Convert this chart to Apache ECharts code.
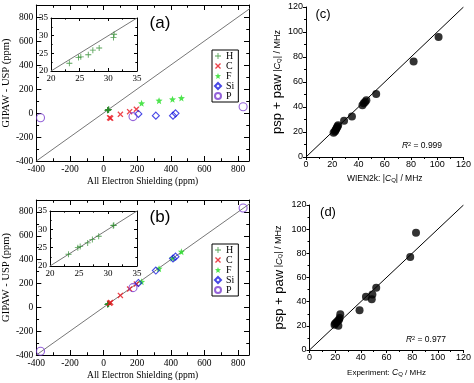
<!DOCTYPE html>
<html><head><meta charset="utf-8">
<script src="https://cdn.jsdelivr.net/npm/echarts@6/dist/echarts.min.js"></script>
<style>html,body{margin:0;padding:0;background:#fff}#c{width:474px;height:383px}</style>
</head><body><div id="c"></div>
<script>
// ---------- data: panels (a) and (b) ----------
const hAE    = [23.2, 24.8, 25.2, 26.5, 27.3, 28.4, 30.9, 31.0];
const hUspA  = [22.2, 23.8, 24.0, 24.6, 25.9, 26.5, 29.5, 30.4];
const hUspB  = [23.2, 25.0, 25.3, 26.3, 27.2, 28.1, 31.0, 31.1];
const cAE    = [36, 42, 100, 155, 195];
const cUspA  = [-40, -44, -11, 11, 31];
const cUspB  = [35, 40, 100, 153, 195];
const fAE    = [226, 330, 410, 463];
const fUspA  = [81, 103, 114, 125];
const fUspB  = [214, 324, 412, 466];
const siAE   = [207, 311, 413, 428];
const siUspA = [-8, -22, -22, -3];
const siUspB = [204, 308, 410, 425];
const pAE    = [-375, 175, 830];
const pUspA  = [-39, -30, 52];
const pUspB  = [-368, 165, 833];
const diagMain  = [-400, 900];
const diagInset = [20, 35];
// ---------- data: panels (c) and (d) ----------
const qWien = [21, 22, 22.5, 23, 23.5, 24, 24.5, 29, 35, 43, 44, 45, 46, 53.5, 82, 101];
const qPawC = [19.5, 20.5, 21.5, 22.5, 23.5, 24.5, 25.5, 29, 32.5, 41.5, 43, 44, 45.5, 50.5, 76.5, 96];
const qExp  = [19.5, 20, 21, 22.5, 22, 23, 23.5, 24, 39, 44, 48.5, 49, 52, 78.5, 83];
const qPawD = [21, 22, 23, 20, 24, 25, 26.5, 29.5, 33, 44, 42, 46, 51.5, 77, 97];
const diagQ = [0, 120];
const r2c = '0.999', r2d = '0.977';

const SERIF = '"Liberation Serif", "Times New Roman", serif';
const SANS = '"Liberation Sans", Arial, sans-serif';
const zip = (a, b) => a.map((v, i) => [v, b[i]]);

const PLUS = 'path://M3 0h1v3h3v1h-3v3h-1v-3h-3v-1h3z';
const CROSS = 'path://M0 1.1L1.1 0 3.5 2.4 5.9 0 7 1.1 4.6 3.5 7 5.9 5.9 7 3.5 4.6 1.1 7 0 5.9 2.4 3.5Z';
const STAR = 'path://M5 0L6.3 3.3 10 3.6 7.1 6 8.1 9.6 5 7.6 1.9 9.6 2.9 6 0 3.6 3.7 3.3Z';
const colH = '#2a8a2a', colC = '#e8141e', colF = '#22dd22', colSi = '#1a1ae0', colP = '#7a3cd0';

const xAxes = [], yAxes = [];
function boxAxes(gi, range, interval, fontSize, xName, yName, nameOpts) {
  const base = (pos, labels, isX) => ({
    gridIndex: gi, type: 'value', position: pos, min: range[0], max: range[1], interval: interval,
    axisLine: {show: true, onZero: false, lineStyle: {color: '#000', width: 1}},
    axisTick: {show: true, inside: true, length: nameOpts.tick, lineStyle: {color: '#000', width: 1}},
    minorTick: {show: true, splitNumber: 2, length: nameOpts.tick * 0.55, lineStyle: {color: '#000', width: 1}},
    splitLine: {show: false},
    axisLabel: {show: labels, showMaxLabel: nameOpts.showMax, color: '#000', fontFamily: SERIF, fontSize: fontSize, margin: 3},
    name: labels ? (isX ? xName : yName) : '',
    nameLocation: 'middle',
    nameGap: isX ? nameOpts.xGap : nameOpts.yGap,
    nameTextStyle: {color: '#000', fontFamily: SERIF, fontSize: isX ? nameOpts.xSize : nameOpts.ySize}
  });
  xAxes.push(base('bottom', true, true), base('top', false, true));
  yAxes.push(base('left', true, false), base('right', false, false));
}
const mainRange = [-400, 865];
const yMainRange = [-400, 900];
// (a) main: axes 0,1 ; inset a: 2,3 ; (b) main: 4,5 ; inset b: 6,7
function addMain(gi) {
  boxAxes(gi, mainRange, 200, 9.5, 'All Electron Shielding (ppm)', 'GIPAW - USP (ppm)',
    {tick: 5, showMax: false, xGap: 15, yGap: 20, xSize: 9.5, ySize: 10.5});
  yAxes[yAxes.length - 2].max = yMainRange[1];
  yAxes[yAxes.length - 1].max = yMainRange[1];
}
function addInset(gi) {
  boxAxes(gi, diagInset, 5, 9, '', '', {tick: 3, showMax: true, xGap: 10, yGap: 10, xSize: 9, ySize: 9});
}
addMain(0); addInset(1); addMain(2); addInset(3);

function qAxis(gi, isX, name, gap) {
  return {
    gridIndex: gi, type: 'value', min: diagQ[0], max: diagQ[1], interval: 20,
    position: isX ? 'bottom' : 'left',
    axisLine: {show: true, onZero: false, lineStyle: {color: '#000', width: 1}},
    axisTick: {show: true, inside: false, length: 3, lineStyle: {color: '#000'}},
    minorTick: {show: true, splitNumber: 2, length: 2, lineStyle: {color: '#000'}},
    splitLine: {show: false},
    axisLabel: {color: '#000', fontFamily: SANS, fontSize: 9, margin: 3},
    name: name, nameLocation: 'middle', nameGap: gap,
    nameTextStyle: {color: '#000', fontFamily: SANS, fontSize: isX ? 8.5 : 9,
      rich: {
        a: {fontFamily: SANS, fontSize: 13, color: '#000'},
        i: {fontFamily: SANS, fontSize: isX ? 8.5 : 9, fontStyle: 'italic', color: '#000'},
        s: {fontFamily: SANS, fontSize: 6, color: '#000', padding: [3, 0, 0, 0]}
      }}
  };
}
xAxes.push(qAxis(4, true, 'WIEN2k: |{i|C}{s|Q}| / MHz', 17));
yAxes.push(qAxis(4, false, '{a|psp + paw} |{i|C}{s|Q}| / MHz', 21));
xAxes.push(qAxis(5, true, 'Experiment: {i|C}{s|Q} / MHz', 18));
yAxes.push(qAxis(5, false, '{a|psp + paw} |{i|C}{s|Q}| / MHz', 24));
xAxes[xAxes.length - 1].nameTextStyle.fontSize = 8;

function sc(name, xi, data, sym, size, color, open) {
  return {
    type: 'scatter', name: name, xAxisIndex: xi, yAxisIndex: xi, data: data,
    symbol: sym, symbolSize: size, z: 3,
    itemStyle: open ? {color: 'rgba(255,255,255,0)', borderColor: color, borderWidth: 1.1} : {color: color},
    emphasis: {disabled: true}
  };
}
function diag(xi, ends, color) {
  return {
    type: 'line', xAxisIndex: xi, yAxisIndex: xi, data: ends.map(v => [v, v]),
    showSymbol: false, symbol: 'none', silent: true, z: 1, clip: true,
    lineStyle: {color: color, width: 1}
  };
}
function mainSeries(xi, hY, cY, fY, siY, pY) {
  return [
    diag(xi, diagMain, '#777'),
    sc('H', xi, zip(hAE, hY), PLUS, 6, colH),
    sc('C', xi, zip(cAE, cY), CROSS, 6, colC),
    sc('F', xi, zip(fAE, fY), STAR, 7, colF),
    sc('Si', xi, zip(siAE, siY), 'diamond', 7, colSi, true),
    sc('P', xi, zip(pAE, pY), 'circle', 8, colP, true)
  ];
}
function insetSeries(xi, hY) {
  return [
    diag(xi, diagInset, '#777'),
    {type: 'scatter', xAxisIndex: xi, yAxisIndex: xi, data: zip(hAE, hY), symbol: PLUS, symbolSize: 6,
     itemStyle: {color: colH}, z: 3}
  ];
}
const series = [].concat(
  mainSeries(0, hUspA, cUspA, fUspA, siUspA, pUspA),
  insetSeries(2, hUspA),
  mainSeries(4, hUspB, cUspB, fUspB, siUspB, pUspB),
  insetSeries(6, hUspB),
  [diag(8, diagQ, '#000'),
   {type: 'scatter', xAxisIndex: 8, yAxisIndex: 8, data: zip(qWien, qPawC), symbol: 'circle', symbolSize: 8, itemStyle: {color: '#000'}, z: 3},
   diag(9, diagQ, '#000'),
   {type: 'scatter', xAxisIndex: 9, yAxisIndex: 9, data: zip(qExp, qPawD), symbol: 'circle', symbolSize: 8, itemStyle: {color: '#000'}, z: 3}]
);

function legendAt(top) {
  return {
    data: ['H', 'C', 'F', 'Si', 'P'], orient: 'vertical', left: 212, top: top,
    itemWidth: 6, itemHeight: 6, itemGap: 0, padding: [1, 4, 1, 2],
    borderColor: '#000', borderWidth: 1, backgroundColor: '#fff',
    textStyle: {fontFamily: SERIF, fontSize: 10, color: '#000', lineHeight: 9},
    selectedMode: false
  };
}
function label(x, y, text, size) {
  return {type: 'text', x: x, y: y, z: 10,
    style: {text: text, font: size + 'px ' + SANS, fill: '#000', align: 'center', verticalAlign: 'middle'}};
}
function r2(x, y, val) {
  return {type: 'text', x: x, y: y, z: 10,
    style: {text: '{i|R}{s|2} = ' + val, font: '8.5px ' + SANS, fill: '#000', align: 'center', verticalAlign: 'middle',
      rich: {i: {font: 'italic 8.5px ' + SANS, fill: '#000'}, s: {font: '5.5px ' + SANS, fill: '#000', padding: [0, 0, 4, 0]}}}};
}

const chart = echarts.init(document.getElementById('c'), null, {renderer: 'canvas'});
chart.setOption({
  animation: false,
  backgroundColor: '#fff',
  grid: [
    {left: 34, top: 5, width: 215, height: 156, show: false},
    {left: 51, top: 18, width: 86, height: 53, show: true, backgroundColor: '#fff', borderWidth: 0},
    {left: 34, top: 200, width: 215, height: 155, show: false},
    {left: 50, top: 211, width: 87, height: 55, show: true, backgroundColor: '#fff', borderWidth: 0},
    {left: 306, top: 7, width: 166, height: 150},
    {left: 309.5, top: 205, width: 163.5, height: 145}
  ],
  xAxis: xAxes,
  yAxis: yAxes,
  legend: [legendAt(50), legendAt(244)],
  series: series,
  graphic: [
    label(160, 23, '(a)', 17), label(160, 217, '(b)', 17),
    label(323, 14, '(c)', 13), label(328, 212, '(d)', 13),
    r2(422, 146, r2c), r2(426, 340, r2d)
  ]
});
</script>
</body></html>
